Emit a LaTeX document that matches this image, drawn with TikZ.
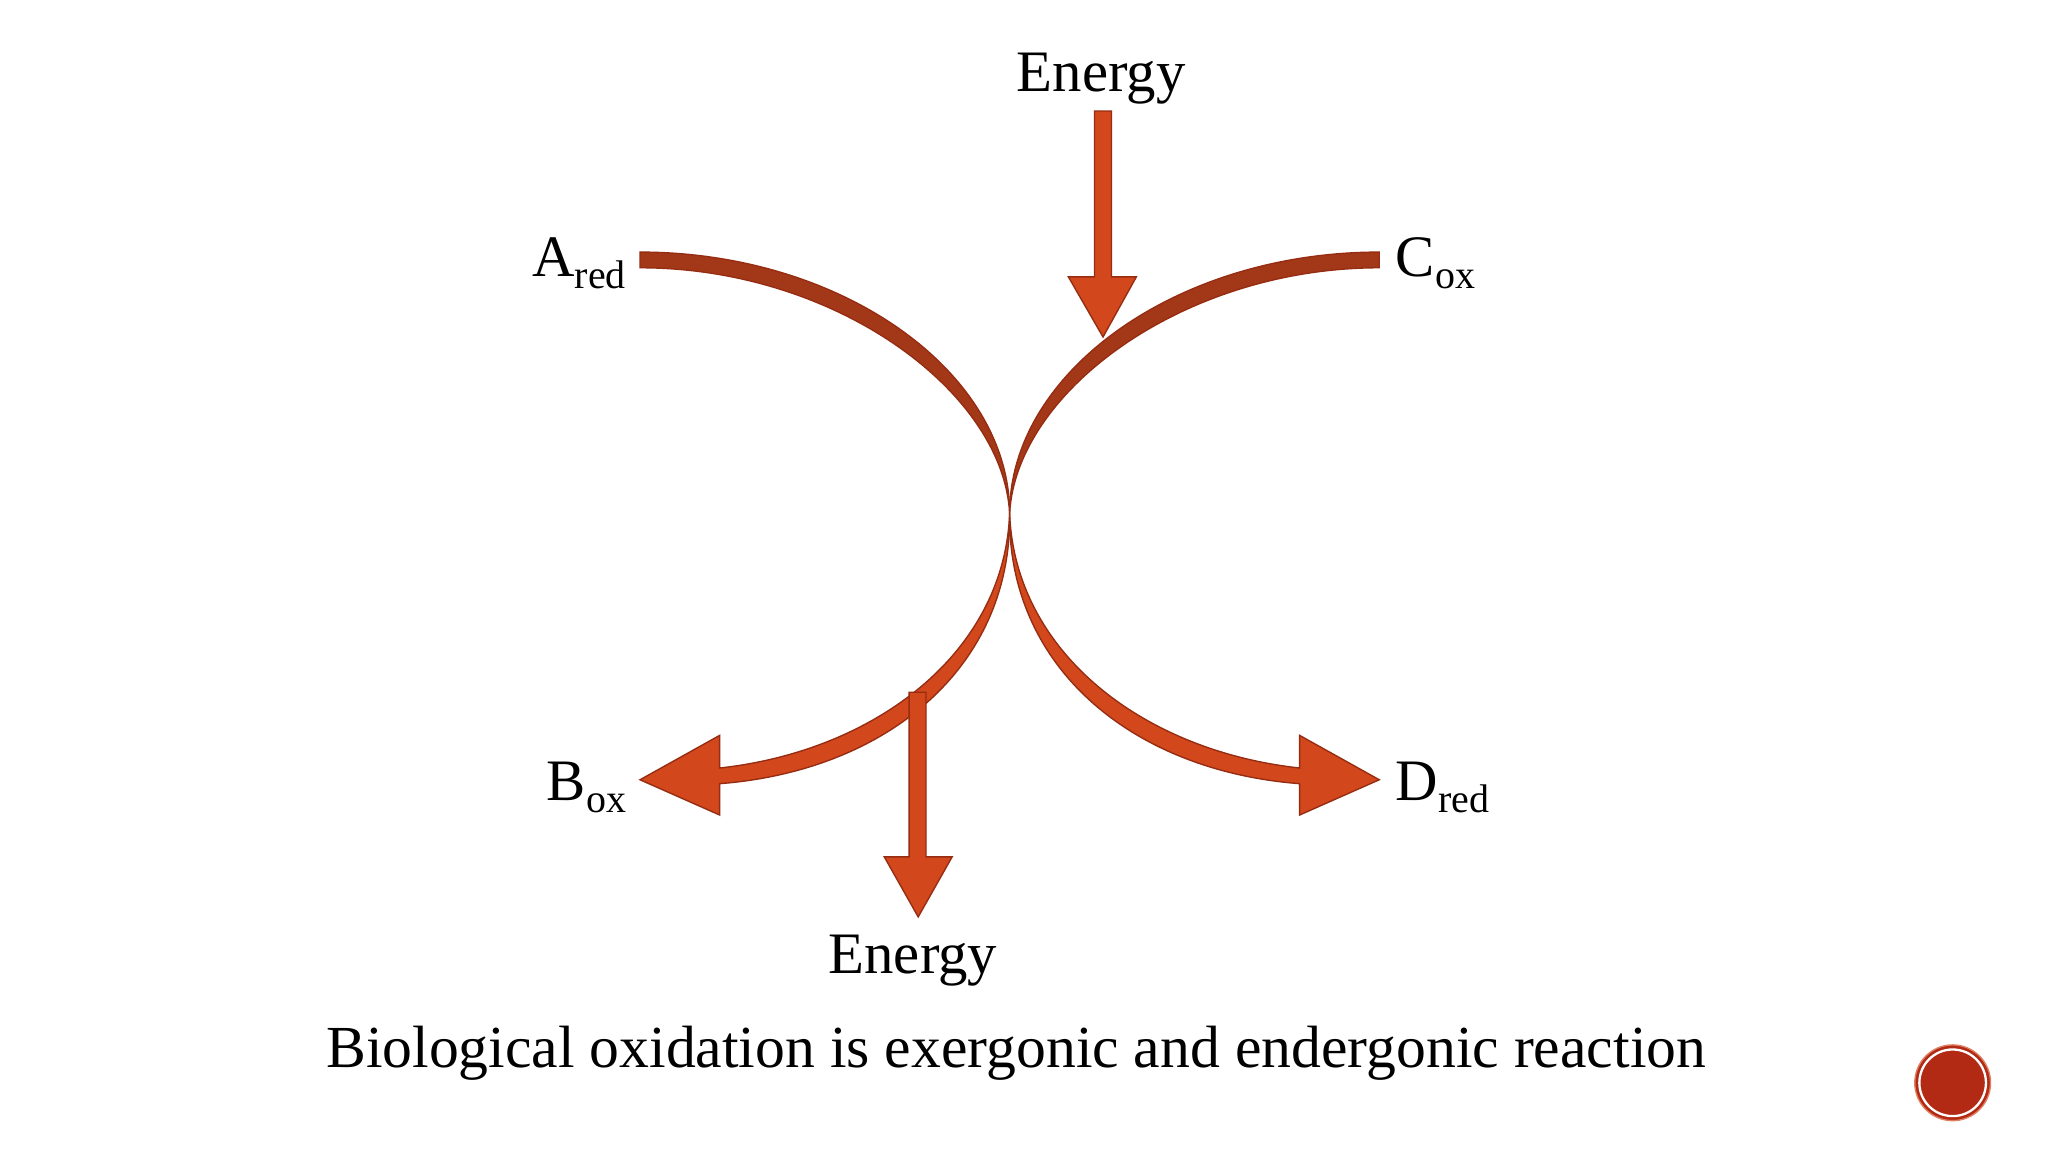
\documentclass[tikz,border=0pt]{standalone}
\usepackage{fontspec}
\setmainfont{Liberation Serif}
\definecolor{bandtop}{RGB}{163,56,24}
\definecolor{bandbot}{RGB}{210,72,28}
\definecolor{edgecol}{RGB}{150,45,18}
\definecolor{dotred}{RGB}{178,42,20}
\newcommand{\lsub}[1]{\raisebox{-0.2em}{\fontsize{8.7pt}{9pt}\selectfont #1}}
\begin{document}
\begin{tikzpicture}[x=0.1mm,y=-0.1mm,
  lbl/.style={inner sep=0pt, anchor=base west, font=\fontsize{12.8pt}{15pt}\selectfont},
  clbl/.style={inner sep=0pt, anchor=base, font=\fontsize{12.8pt}{15pt}\selectfont},
  topband/.style={fill=bandtop, draw=edgecol, line width=0.3pt},
  botband/.style={fill=bandbot, draw=edgecol, line width=0.3pt},
  bigarrow/.style={fill=bandbot, draw=edgecol, line width=0.3pt}]
\useasboundingbox[fill=white] (0,0) rectangle (1568,882);

% labels
\node[clbl] (etop) at (843,70) {Energy};
\node[clbl] (ebot) at (699,745) {Energy};
\node[lbl] (ared) at (407,212) {A\lsub{red}};
\node[lbl] (cox) at (1068,212) {C\lsub{ox}};
\node[lbl] (box) at (418,613) {B\lsub{ox}};
\node[lbl] (dred) at (1068,613) {D\lsub{red}};
\node[clbl, font=\fontsize{13pt}{15pt}\selectfont] (caption) at (778,817) {Biological oxidation is exergonic and endergonic reaction};

% meeting point
\coordinate (mid) at (773,393);

% upper left band (A)
\path[topband] (490,193) .. controls (645,193) and (773,285) .. (mid)
  .. controls (768,300) and (640,205) .. (490,205) -- cycle;
% upper right band (C)
\path[topband] (1056,193) .. controls (901,193) and (773,285) .. (mid)
  .. controls (778,300) and (906,205) .. (1056,205) -- cycle;
% lower left band to B with head
\path[botband] (mid) .. controls (775,510) and (680,590) .. (551,600)
  -- (551,624) -- (490,597) -- (551,563) -- (551,588)
  .. controls (670,575) and (769,500) .. (mid) -- cycle;
% lower right band to D with head
\path[botband] (mid) .. controls (771,510) and (866,590) .. (995,600)
  -- (995,624) -- (1056,597) -- (995,563) -- (995,588)
  .. controls (876,575) and (777,500) .. (mid) -- cycle;

% energy in (top)
\path[bigarrow] (838,85) -- (851,85) -- (851,212) -- (870,212) -- (844.5,258)
  -- (818,212) -- (838,212) -- cycle;
% energy out (bottom)
\path[bigarrow] (696,530) -- (709,530) -- (709,656) -- (729,656) -- (703,702)
  -- (677,656) -- (696,656) -- cycle;

% slide badge
\fill[dotred] (1495,829) circle (29);
\draw[white, line width=0.5pt] (1495,829) circle (25.5);
\draw[bandbot!70, line width=0.3pt] (1495,829) circle (29);
\end{tikzpicture}
\end{document}
